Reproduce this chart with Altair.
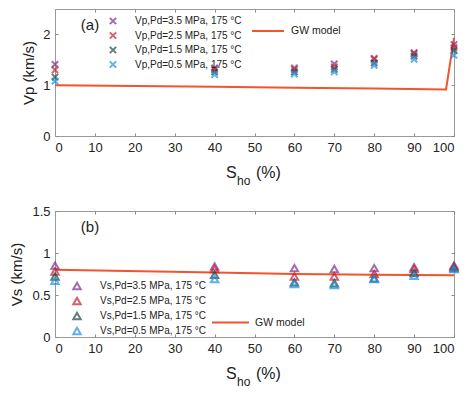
import altair as alt
import pandas as pd

# ---------------- data ----------------
sho = [0, 40, 60, 70, 80, 90, 100]

vp_labels = ["Vp,Pd=3.5 MPa, 175 °C", "Vp,Pd=2.5 MPa, 175 °C",
             "Vp,Pd=1.5 MPa, 175 °C", "Vp,Pd=0.5 MPa, 175 °C"]
vp_35 = [1.41, 1.34, 1.34, 1.42, 1.51, 1.64, 1.80]
vp_25 = [1.30, 1.31, 1.31, 1.36, 1.53, 1.62, 1.74]
vp_15 = [1.16, 1.26, 1.26, 1.31, 1.44, 1.57, 1.68]
vp_05 = [1.08, 1.21, 1.22, 1.26, 1.39, 1.51, 1.59]

vs_labels = ["Vs,Pd=3.5 MPa, 175 °C", "Vs,Pd=2.5 MPa, 175 °C",
             "Vs,Pd=1.5 MPa, 175 °C", "Vs,Pd=0.5 MPa, 175 °C"]
vs_35 = [0.85, 0.84, 0.82, 0.81, 0.82, 0.83, 0.85]
vs_25 = [0.78, 0.81, 0.72, 0.72, 0.75, 0.81, 0.84]
vs_15 = [0.72, 0.74, 0.65, 0.64, 0.70, 0.76, 0.82]
vs_05 = [0.67, 0.69, 0.63, 0.62, 0.69, 0.73, 0.81]

gw_vp_x = [0, 20, 40, 60, 80, 98, 100]
gw_vp_y = [1.0, 0.985, 0.97, 0.95, 0.935, 0.915, 1.93]
gw_vs_x = [0, 40, 60, 80, 100]
gw_vs_y = [0.80, 0.767, 0.75, 0.74, 0.736]

series_colors = ["#7D2E8E", "#C81E2E", "#1E4A44", "#1C8FE3"]
gw_color = "#F2542D"
x_ticks = [0, 10, 20, 30, 40, 50, 60, 70, 80, 90, 100]
vp_ticks = [0, 1, 2]
vs_ticks = [0, 0.5, 1, 1.5]

# ---------------- frames ----------------
def long_frame(labels, arrays, field):
    rows = []
    for lab, arr in zip(labels, arrays):
        for x, v in zip(sho, arr):
            rows.append({"sho": x, "v": v, field: lab})
    return pd.DataFrame(rows)

vp_df = long_frame(vp_labels, [vp_35, vp_25, vp_15, vp_05], "sp")
vs_df = long_frame(vs_labels, [vs_35, vs_25, vs_15, vs_05], "ss")
gwp_df = pd.DataFrame({"sho": gw_vp_x, "v": gw_vp_y, "mp": "GW model"})
gws_df = pd.DataFrame({"sho": gw_vs_x, "v": gw_vs_y, "ms": "GW model"})

FONT = "Liberation Sans"
XPATH = "M-1,-1L1,1M1,-1L-1,1"
W, H1, H2 = 399, 127, 126
XS = alt.Scale(domain=[0, 100], nice=False)


def xtitle_layers(h):
    base = alt.Chart(pd.DataFrame({"a": [0]}))
    s = base.mark_text(text="S", font=FONT, fontSize=16, align="left",
                       baseline="middle", color="#222").encode(
        x=alt.value(171), y=alt.value(h + 37))
    ho = base.mark_text(text="ho", font=FONT, fontSize=12, align="left",
                        baseline="middle", color="#222").encode(
        x=alt.value(182), y=alt.value(h + 45))
    pc = base.mark_text(text="(%)", font=FONT, fontSize=16, align="left",
                        baseline="middle", color="#222").encode(
        x=alt.value(201), y=alt.value(h + 37))
    return [s, ho, pc]


def panel_label(txt):
    return alt.Chart(pd.DataFrame({"a": [0]})).mark_text(
        text=txt, font=FONT, fontSize=15, align="center", baseline="middle",
        color="#222").encode(x=alt.value(35), y=alt.value(16))


def tick_layers(df, yscale, yticks):
    # inward ticks drawn as extra axes moved inside the plot frame
    inner = alt.Chart(df).mark_point(opacity=0).encode(
        x=alt.X("sho:Q", scale=XS,
                axis=alt.Axis(orient="bottom", offset=-3, tickSize=3, labels=False,
                              domain=False, title=None, values=x_ticks, grid=False)),
        y=alt.Y("v:Q", scale=yscale,
                axis=alt.Axis(orient="left", offset=-3, tickSize=3, labels=False,
                              domain=False, title=None, values=yticks, grid=False)))
    outer = alt.Chart(df).mark_point(opacity=0).encode(
        x=alt.X("sho:Q", scale=XS,
                axis=alt.Axis(orient="top", offset=-3, tickSize=3, labels=False,
                              domain=False, title=None, values=x_ticks, grid=False)),
        y=alt.Y("v:Q", scale=yscale,
                axis=alt.Axis(orient="right", offset=-3, tickSize=3, labels=False,
                              domain=False, title=None, values=yticks, grid=False)))
    return [inner, outer]


def main_axes_x():
    return alt.X("sho:Q", scale=XS,
                 axis=alt.Axis(title=None, values=x_ticks, grid=False, ticks=False,
                               labelFontSize=13, labelPadding=5))


def y_axis(title, ticks, tx, h):
    return alt.Axis(title=title, values=ticks, grid=False, ticks=False, format="~g",
                    labelFontSize=13, labelPadding=5, titleFontSize=15,
                    titleFontWeight="normal", titleFont=FONT, titleX=tx, titleY=h / 2,
                    titleAngle=270, titleAlign="center", titleBaseline="bottom")

# ---------------- top panel (Vp) ----------------
vp_scale = alt.Scale(domain=[0, 2.5], nice=False)

vp_line = alt.Chart(gwp_df).mark_line(strokeWidth=2).encode(
    x=alt.X("sho:Q", scale=XS, axis=None),
    y=alt.Y("v:Q", scale=vp_scale, axis=None),
    stroke=alt.Stroke("mp:N", scale=alt.Scale(domain=["GW model"], range=[gw_color]),
                      legend=alt.Legend(title=None, orient="none", legendX=196, legendY=5,
                                        symbolType="stroke", symbolSize=1024,
                                        symbolStrokeWidth=2, labelFont=FONT,
                                        labelFontSize=10.5, labelOffset=6, padding=0)))

vp_pts = alt.Chart(vp_df).mark_point(shape=XPATH, filled=False, strokeWidth=2, size=40).encode(
    x=main_axes_x(),
    y=alt.Y("v:Q", scale=vp_scale, axis=y_axis("Vp (km/s)", vp_ticks, -19, H1)),
    color=alt.Color("sp:N", scale=alt.Scale(domain=vp_labels, range=series_colors),
                    legend=alt.Legend(title=None, orient="none", legendX=53, legendY=7,
                                      symbolType=XPATH, symbolSize=40, symbolStrokeWidth=2,
                                      labelFont=FONT, labelFontSize=10, labelOffset=17,
                                      rowPadding=-1.5, padding=0)))

top = alt.layer(vp_line, vp_pts, *tick_layers(gwp_df, vp_scale, vp_ticks),
                panel_label("(a)"), *xtitle_layers(H1)).resolve_scale(
    color="independent", stroke="independent").resolve_axis(
    x="independent", y="independent").properties(width=W, height=H1)

# ---------------- bottom panel (Vs) ----------------
vs_scale = alt.Scale(domain=[0, 1.5], nice=False)

vs_line = alt.Chart(gws_df).mark_line(strokeWidth=2).encode(
    x=alt.X("sho:Q", scale=XS, axis=None),
    y=alt.Y("v:Q", scale=vs_scale, axis=None),
    stroke=alt.Stroke("ms:N", scale=alt.Scale(domain=["GW model"], range=[gw_color]),
                      legend=alt.Legend(title=None, orient="none", legendX=156, legendY=92,
                                        symbolType="stroke", symbolSize=1369,
                                        symbolStrokeWidth=2, labelFont=FONT,
                                        labelFontSize=10.5, labelOffset=5, padding=0)))

vs_pts = alt.Chart(vs_df).mark_point(shape="triangle-up", filled=False, strokeWidth=2, size=55).encode(
    x=main_axes_x(),
    y=alt.Y("v:Q", scale=vs_scale, axis=y_axis("Vs (km/s)", vs_ticks, -31, H2)),
    color=alt.Color("ss:N", scale=alt.Scale(domain=vs_labels, range=series_colors),
                    legend=alt.Legend(title=None, orient="none", legendX=17, legendY=70,
                                      symbolType="triangle-up", symbolSize=55, symbolStrokeWidth=2,
                                      labelFont=FONT, labelFontSize=10, labelOffset=18,
                                      rowPadding=-1, padding=0)))

bottom = alt.layer(vs_line, vs_pts, *tick_layers(gws_df, vs_scale, vs_ticks),
                   panel_label("(b)"), *xtitle_layers(H2)).resolve_scale(
    color="independent", stroke="independent").resolve_axis(
    x="independent", y="independent").properties(width=W, height=H2)

chart = alt.vconcat(top, bottom, spacing=16).resolve_scale(
    color="independent", stroke="independent", x="independent", y="independent"
).resolve_legend(color="independent", stroke="independent").properties(
    padding={"left": 0, "top": 0, "right": 0, "bottom": 0}
).configure(font=FONT).configure_view(stroke="#9a9a9a", strokeWidth=1).configure_axis(
    domainColor="#9a9a9a", tickColor="#8a8a8a", labelColor="#222",
    titleColor="#222", labelFont=FONT, titleFont=FONT
).configure_legend(labelColor="#222")

chart.save("out.html", embed_options={"renderer": "svg", "actions": False})
